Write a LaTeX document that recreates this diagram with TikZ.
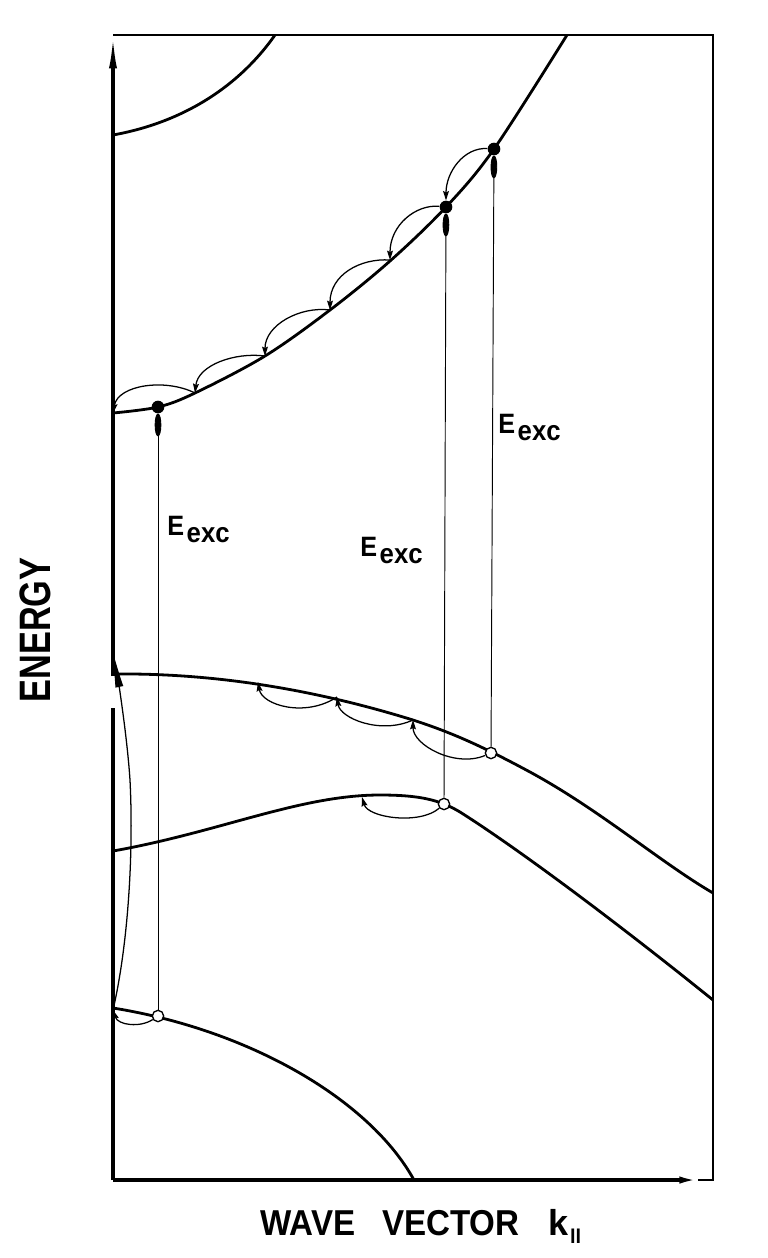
\documentclass[tikz,border=0pt]{standalone}
\usepackage{fontspec}
\setmainfont{Liberation Sans}
\usetikzlibrary{arrows.meta}
\tikzset{
  axisline/.style={line width=2.3pt},
  frameline/.style={line width=1.8pt},
  band/.style={line width=2.1pt, line join=round},
  hop/.style={line width=0.95pt, -{Stealth[length=7pt,width=4.4pt,inset=1pt]}},
  longhop/.style={line width=0.95pt, -{Latex[length=32pt,width=6pt]}},
  excline/.style={line width=0.7pt, -{Ellipse[length=17pt,width=5pt]}},
  fulldot/.style={circle, fill=black, inner sep=0pt, minimum size=9.5pt},
  emptydot/.style={circle, draw=black, fill=white, line width=1pt, inner sep=0pt, minimum size=8.5pt},
  exclabel/.style={anchor=base west, inner sep=0pt, font=\bfseries\fontsize{21pt}{22pt}\selectfont},
}
\newcommand{\Eexc}{\scalebox{0.9}[1]{E}\hspace{2pt}\raisebox{-5.5pt}{\scalebox{0.92}[1]{exc}}}
\begin{document}
\begin{tikzpicture}[x=0.75pt,y=-0.75pt]
\useasboundingbox (0,0) rectangle (768,1258);
% frame and axes
\coordinate (O) at (113,1180);
\coordinate (Ytop) at (113,35);
\coordinate (Ygap1) at (113,708);
\coordinate (Ygap2) at (113,676);
\coordinate (Xend) at (698,1180);
\coordinate (TR) at (713,35);
\coordinate (BR) at (713,1180);
\draw[frameline] (Ytop) -- (TR) -- (BR) -- (Xend);
\draw[axisline] (O) -- (Ygap1);
\draw[axisline, -{Latex[length=25pt,width=6pt]}] (Ygap2) -- (Ytop);
\draw[axisline, -{Latex[length=14pt,width=5.5pt]}] (O) -- (Xend);
% bands
\draw[band] (113,135) .. controls (185,122) and (240,85) .. (275,35);
\draw[band] plot[smooth, tension=0.55] coordinates {(113,413) (158,407) (195,393) (265,356) (330,310) (390,261) (446,207) (494,149) (567,35)};
\draw[band] (113,674) .. controls (200,673) and (300,685) .. (413,720) .. controls (450,732) and (480,745) .. (530,772) .. controls (600,810) and (660,862) .. (713,893);
\draw[band] (113,851) .. controls (220,832) and (300,795) .. (380,795) .. controls (420,795) and (440,800) .. (460,812) .. controls (520,850) and (620,925) .. (713,1000);
\draw[band] (113,1008) .. controls (250,1030) and (370,1100) .. (414,1180);
% states
\node[fulldot] (c1) at (158,407) {};
\node[fulldot] (c2) at (446,207) {};
\node[fulldot] (c3) at (494,149) {};
\node[emptydot] (v1) at (158,1016) {};
\node[emptydot] (v2) at (444,804) {};
\node[emptydot] (v3) at (491,753) {};
% landing points
\coordinate (u0) at (113,413);
\coordinate (u3) at (390,260);
\coordinate (u4) at (330,310);
\coordinate (u5) at (265,356);
\coordinate (u6) at (195,393);
\coordinate (m1) at (413,720);
\coordinate (m2) at (337,697);
\coordinate (m3) at (258,682);
\coordinate (l1) at (362,797);
\coordinate (b0) at (113,1010);
\coordinate (ytip) at (111,645);
% excitations
\draw[excline] (v1) -- (c1);
\draw[excline] (v2) -- (c2);
\draw[excline] (v3) -- (c3);
% electron relaxation hops
\draw[hop] (c3) .. controls (464,147) and (446,172) .. (c2);
\draw[hop] (c2) .. controls (416,204) and (390,225) .. (u3);
\draw[hop] (u3) .. controls (360,258) and (330,275) .. (u4);
\draw[hop] (u4) .. controls (300,306) and (265,325) .. (u5);
\draw[hop] (u5) .. controls (235,352) and (198,365) .. (u6);
\draw[hop] (u6) .. controls (165,378) and (118,385) .. (u0);
% hole relaxation hops
\draw[hop] (v3) .. controls (455,768) and (413,745) .. (m1);
\draw[hop] (m1) .. controls (380,735) and (340,718) .. (m2);
\draw[hop] (m2) .. controls (305,718) and (262,705) .. (m3);
\draw[hop] (v2) .. controls (420,825) and (368,818) .. (l1);
\draw[hop] (v1) .. controls (140,1028) and (118,1025) .. (b0);
\draw[longhop] (b0) .. controls (127,950) and (134,860) .. (130,780) .. controls (127,735) and (118,680) .. (ytip);
% labels
\node[exclabel] (e1) at (167,535) {\Eexc};
\node[exclabel] (e2) at (360,556) {\Eexc};
\node[exclabel] (e3) at (498,433) {\Eexc};
\node[rotate=90, inner sep=0pt, font=\bfseries\fontsize{33pt}{36pt}\selectfont] (ylab) at (35,630) {\scalebox{0.78}[1]{ENERGY}};
\node[anchor=base west, inner sep=0pt, font=\bfseries\fontsize{27pt}{30pt}\selectfont] (xlab) at (260,1235) {\scalebox{0.92}[1]{WAVE}\hspace{20pt}\scalebox{0.92}[1]{VECTOR}\hspace{22pt}k\hspace{1pt}\raisebox{-6pt}{\fontsize{15pt}{15pt}\selectfont ll}};
\end{tikzpicture}
\end{document}
